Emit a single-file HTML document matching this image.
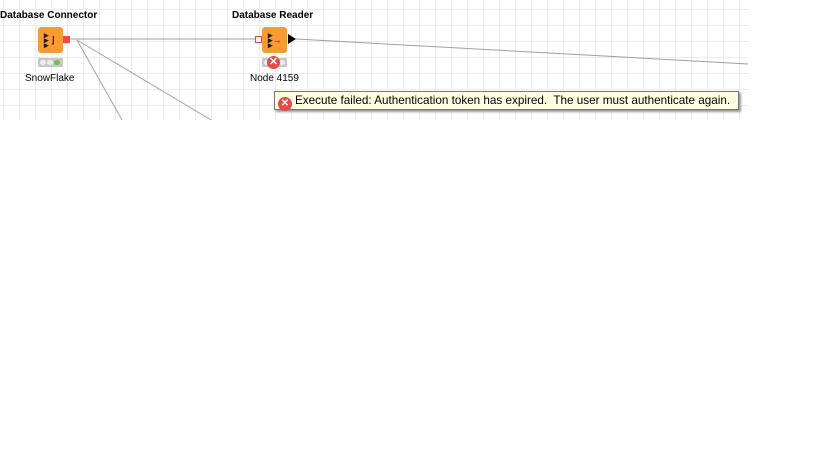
<!DOCTYPE html>
<html><head><meta charset="utf-8"><style>
html,body{margin:0;padding:0;width:819px;height:460px;background:#fff;overflow:hidden;font-family:"Liberation Sans",sans-serif}
.grid{position:absolute;left:0;top:0;width:748px;height:120px;
background-image:linear-gradient(to right,#ebebeb 1px,transparent 1px),linear-gradient(to bottom,#ebebeb 1px,transparent 1px);
background-size:16px 16px;background-position:3px 9px}
.t{position:absolute;font-size:10px;font-weight:bold;color:#000;white-space:nowrap}
.node{position:absolute;width:25px;height:26px;background:#fa9a33;border-radius:3px}
.st{position:absolute;width:25px;height:9px;background:#c8c8c8;border-radius:1px}
.dot{position:absolute;top:2px;width:6px;height:5px;border-radius:3px;background:#eee}
.tip{position:absolute;left:274px;top:91px;width:463px;height:17px;background:#ffffe1;border:1px solid #767676;box-shadow:2px 2px 2px #999;font-size:11.7px;line-height:17px;white-space:nowrap}
</style></head><body>
<div class="grid"></div>
<svg width="819" height="460" style="position:absolute;left:0;top:0">
<g stroke="#a0a0a0" stroke-width="1" fill="none">
<line x1="70" y1="39" x2="256" y2="39"/>
<line x1="77" y1="40" x2="122" y2="120"/>
<line x1="77" y1="40" x2="211" y2="120"/>
<line x1="296" y1="39" x2="748" y2="64"/>
</g>
</svg>
<div class="t" style="left:0;top:10px">Database Connector</div>
<div class="node" style="left:38px;top:27px"></div>
<div style="position:absolute;left:44px;top:33px;font-size:9px;font-weight:bold;color:#222;line-height:5px">▸<br>▸ ⌋<br>▸</div>
<div style="position:absolute;left:63px;top:36px;width:7px;height:7px;background:#f04848"></div>
<div class="st" style="left:38px;top:58px"><div class="dot" style="left:2px"></div><div class="dot" style="left:9px"></div><div class="dot" style="left:16px;background:#6dc244"></div></div>
<div class="t" style="left:25px;top:73px;font-weight:normal;font-size:10px">SnowFlake</div>

<div class="t" style="left:232px;top:10px">Database Reader</div>
<div style="position:absolute;left:255px;top:36px;width:5px;height:5px;border:1px solid #e04848;background:#fff"></div>
<div class="node" style="left:262px;top:27px"></div>
<div style="position:absolute;left:268px;top:33px;font-size:9px;font-weight:bold;color:#222;line-height:5px">▸<br>▸→<br>▸</div>
<svg style="position:absolute;left:288px;top:34px" width="9" height="10"><polygon points="0,0 8,5 0,10" fill="#000"/></svg>
<div class="st" style="left:262px;top:58px"><div class="dot" style="left:2px"></div><div class="dot" style="left:17px"></div></div>
<div style="position:absolute;left:267px;top:56px;width:13px;height:13px;border-radius:50%;background:#e84848;color:#fff;font-size:11px;line-height:13px;text-align:center;font-weight:bold">✕</div>
<div class="t" style="left:250px;top:73px;font-weight:normal">Node 4159</div>

<div class="tip"><span style="display:inline-block;width:14px;height:14px;border-radius:50%;background:#e84848;color:#fff;font-size:10px;line-height:14px;text-align:center;vertical-align:-2px;margin:0 3px 0 3px;font-weight:bold">✕</span>Execute failed: Authentication token has expired.&nbsp; The user must authenticate again.</div>
</body></html>
